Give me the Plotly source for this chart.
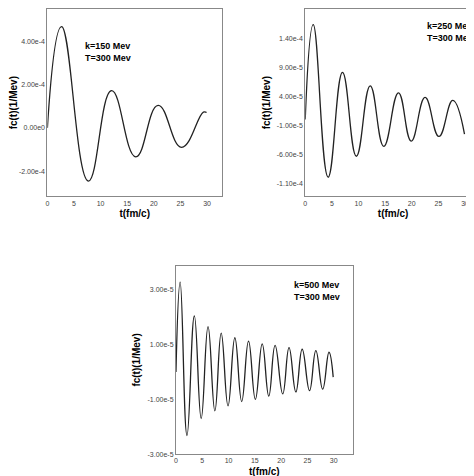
import plotly.graph_objects as go

# extrema (t in fm/c, fc in 1/Mev)
t1 = [0, 2.66, 7.7, 12.06, 16.6, 20.8, 25.2, 29.3, 29.9]
y1 = [0, 4.68e-4, -2.46e-4, 1.72e-4, -1.34e-4, 1.04e-4, -0.90e-4, 0.73e-4, 0.71e-4]

t2 = [0, 1.5, 4.3, 7.0, 9.6, 12.2, 14.75, 17.5, 19.9, 22.5, 25.1, 27.7, 29.9]
y2 = [0, 1.63e-4, -0.99e-4, 0.81e-4, -0.63e-4, 0.58e-4, -0.46e-4, 0.46e-4,
      -0.37e-4, 0.38e-4, -0.29e-4, 0.33e-4, -0.25e-4]

t3 = [0, 0.8, 2.1, 3.5, 4.8, 6.1, 7.4, 8.6, 9.9, 11.2, 12.5, 13.8, 15.1, 16.4,
      17.65, 18.85, 20.3, 21.5, 22.8, 24.0, 25.4, 26.6, 27.9, 29.1, 29.9]
y3 = [0, 3.28e-5, -2.32e-5, 2.05e-5, -1.70e-5, 1.66e-5, -1.42e-5, 1.42e-5,
      -1.24e-5, 1.25e-5, -1.08e-5, 1.13e-5, -1.00e-5, 1.03e-5, -0.88e-5,
      0.97e-5, -0.80e-5, 0.89e-5, -0.73e-5, 0.83e-5, -0.68e-5, 0.78e-5,
      -0.63e-5, 0.72e-5, -0.19e-5]

ticks1 = [4e-4, 2e-4, 0, -2e-4]
labels1 = ["4.00e-4", "2.00e-4", "0.00e0", "-2.00e-4"]
ticks2 = [1.4e-4, 9e-5, 4e-5, -1e-5, -6e-5, -1.1e-4]
labels2 = ["1.40e-4", "9.00e-5", "4.00e-5", "-1.00e-5", "-6.00e-5", "-1.10e-4"]
ticks3 = [3e-5, 1e-5, -1e-5, -3e-5]
labels3 = ["3.00e-5", "1.00e-5", "-1.00e-5", "-3.00e-5"]
xticks = [0, 5, 10, 15, 20, 25, 30]

fig = go.Figure()
panels = [
    (t1, y1, "x", "y"),
    (t2, y2, "x2", "y2"),
    (t3, y3, "x3", "y3"),
]
for t, y, xa, ya in panels:
    fig.add_trace(go.Scatter(x=t, y=y, xaxis=xa, yaxis=ya, mode="lines",
                             line=dict(color="#222", width=1.3, shape="spline", smoothing=1.3),
                             showlegend=False))

tickfont = dict(family="Liberation Sans", size=7, color="#444444")
titlefont = dict(family="Liberation Sans", size=10, color="black")
frame = dict(showline=True, mirror=True, linecolor="#888", linewidth=1,
             showgrid=False, zeroline=False, ticks="", tickfont=tickfont)

def xaxis(dom, rng, anchor):
    return dict(domain=dom, range=rng, anchor=anchor, tickvals=xticks,
                title=dict(text="<b>t(fm/c)</b>", font=titlefont, standoff=4), **frame)

def yaxis(dom, rng, anchor, tv, tt, title):
    return dict(domain=dom, range=rng, anchor=anchor, tickvals=tv, ticktext=tt,
                title=dict(text=title, font=titlefont, standoff=4), **frame)

fig.update_layout(
    width=474, height=476, margin=dict(l=0, r=0, t=0, b=0),
    plot_bgcolor="white", paper_bgcolor="white",
    xaxis=xaxis([0.0675, 0.443], [0, 32.8], "y"),
    yaxis=yaxis([0.603, 1.0], [-3.17e-4, 5.5e-4], "x", ticks1, labels1, "<b>fc(t)(1/Mev)</b>"),
    xaxis2=xaxis([0.622, 1.0], [0, 33], "y2"),
    yaxis2=yaxis([0.603, 1.0], [-1.32e-4, 1.9e-4], "x2", ticks2, labels2, "<b>fc(t)(1/Mev)</b>"),
    xaxis3=xaxis([0.344, 0.724], [0, 33.6], "y3"),
    yaxis3=yaxis([0.057, 0.456], [-3e-5, 3.88e-5], "x3", ticks3, labels3, "<b>fc(t)(1/Mev)</b>"),
)

notefont = dict(family="Liberation Sans", size=9, color="black")
fig.add_annotation(x=6.6, y=3.5e-4, xref="x", yref="y", xanchor="left", showarrow=False, align="left",
                   text="<b>k=150 Mev<br>T=300 Mev</b>", font=notefont)
fig.add_annotation(x=31.8, y=1.5e-4, xref="x2", yref="y2", xanchor="right", showarrow=False, align="left",
                   text="<b>k=250 Mev<br>T=300 Mev</b>", font=notefont)
fig.add_annotation(x=31.5, y=2.95e-5, xref="x3", yref="y3", xanchor="right", showarrow=False, align="left",
                   text="<b>k=500 Mev<br>T=300 Mev</b>", font=notefont)

fig.write_html("out.html")
